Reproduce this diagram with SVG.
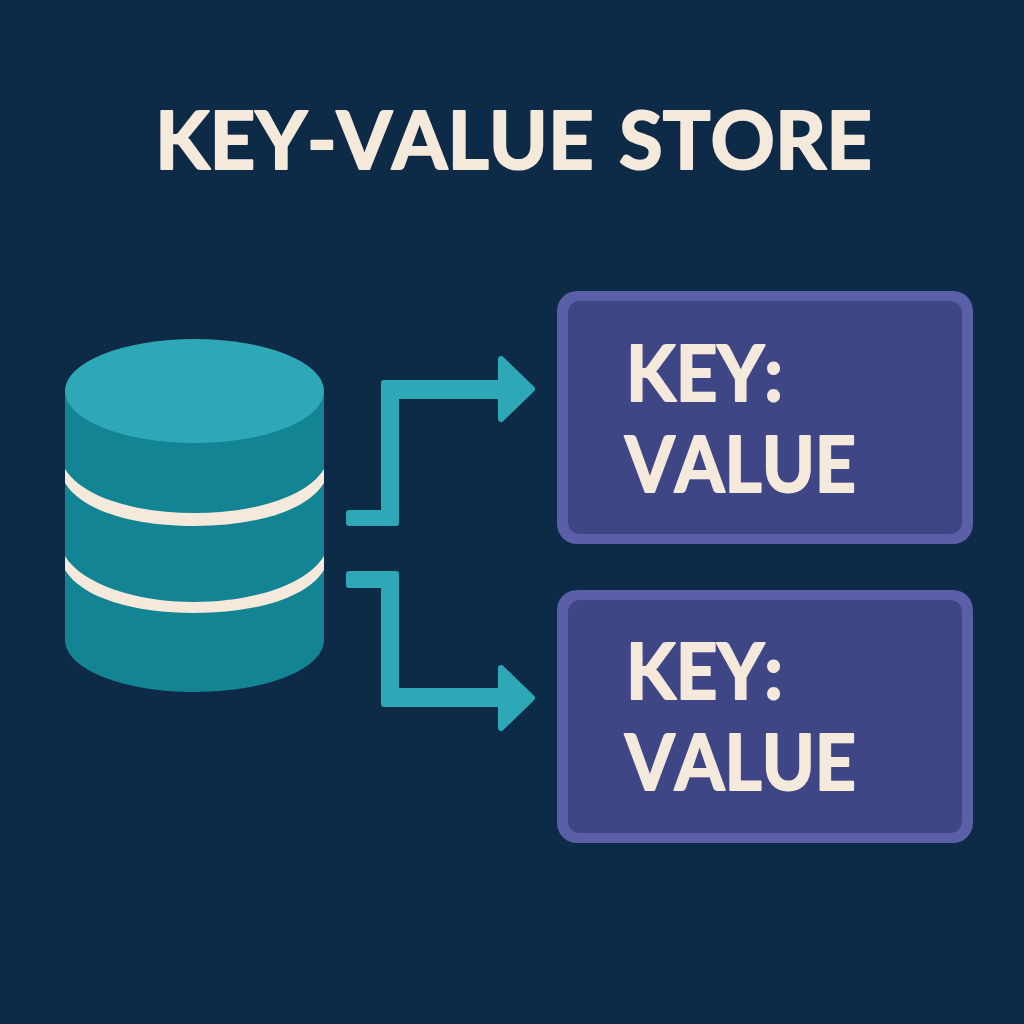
<svg xmlns="http://www.w3.org/2000/svg" width="1024" height="1024" viewBox="0 0 1024 1024">
<style>
.t{font-family:"Lato","Liberation Sans",sans-serif;font-weight:700;fill:#f5e9dc;stroke:#f5e9dc;stroke-width:2px;stroke-linejoin:round;font-kerning:none}
.k{font-size:77px}
.c{fill:#2ea7b6;stroke:#2ea7b6;stroke-width:6;stroke-linejoin:round}
.o{fill:#5a5fa8}
.i{fill:#3f4686}
.s{fill:#f5e9dc}
</style>
<rect width="1024" height="1024" fill="#0d2b47"/>
<text id="title" class="t" x="155" y="169" font-size="81" word-spacing="6" textLength="717" lengthAdjust="spacingAndGlyphs">KEY-VALUE STORE</text>
<g id="database">
<path d="M65 391V640C65 669 123 692 194.500 692S324 669 324 640V391Z" fill="#128494"/>
<ellipse cx="194.500" cy="391" rx="129.500" ry="52" fill="#2ea7b6"/>
<path class="s" d="M65 469C82 497 135 513 194.500 513S307 497 324 469V483C307 511 255 526 194.500 526S82 511 65 483Z"/>
<path class="s" d="M65 556C82 584 135 602 194.500 602S307 584 324 556V570C307 598 255 613 194.500 613S82 598 65 570Z"/>
</g>
<g id="connectors">
<path class="c" d="M349 513H384V383H501V359L532 389L501 419V396H396V523H349Z"/>
<path class="c" d="M349 574H396V691H501V668L532 698L501 728V704H384V585H349Z"/>
</g>
<g id="box1">
<rect class="o" x="557" y="291" width="416" height="253" rx="20"/>
<rect class="i" x="568" y="301" width="394" height="233" rx="12"/>
<text class="t k" x="626" y="401" textLength="157" lengthAdjust="spacingAndGlyphs">KEY:</text>
<text class="t k" x="625" y="492" textLength="231" lengthAdjust="spacingAndGlyphs">VALUE</text>
</g>
<g id="box2">
<rect class="o" x="557" y="590" width="416" height="253" rx="20"/>
<rect class="i" x="568" y="600" width="394" height="233" rx="12"/>
<text class="t k" x="626" y="699" textLength="157" lengthAdjust="spacingAndGlyphs">KEY:</text>
<text class="t k" x="625" y="790" textLength="231" lengthAdjust="spacingAndGlyphs">VALUE</text>
</g>
</svg>
